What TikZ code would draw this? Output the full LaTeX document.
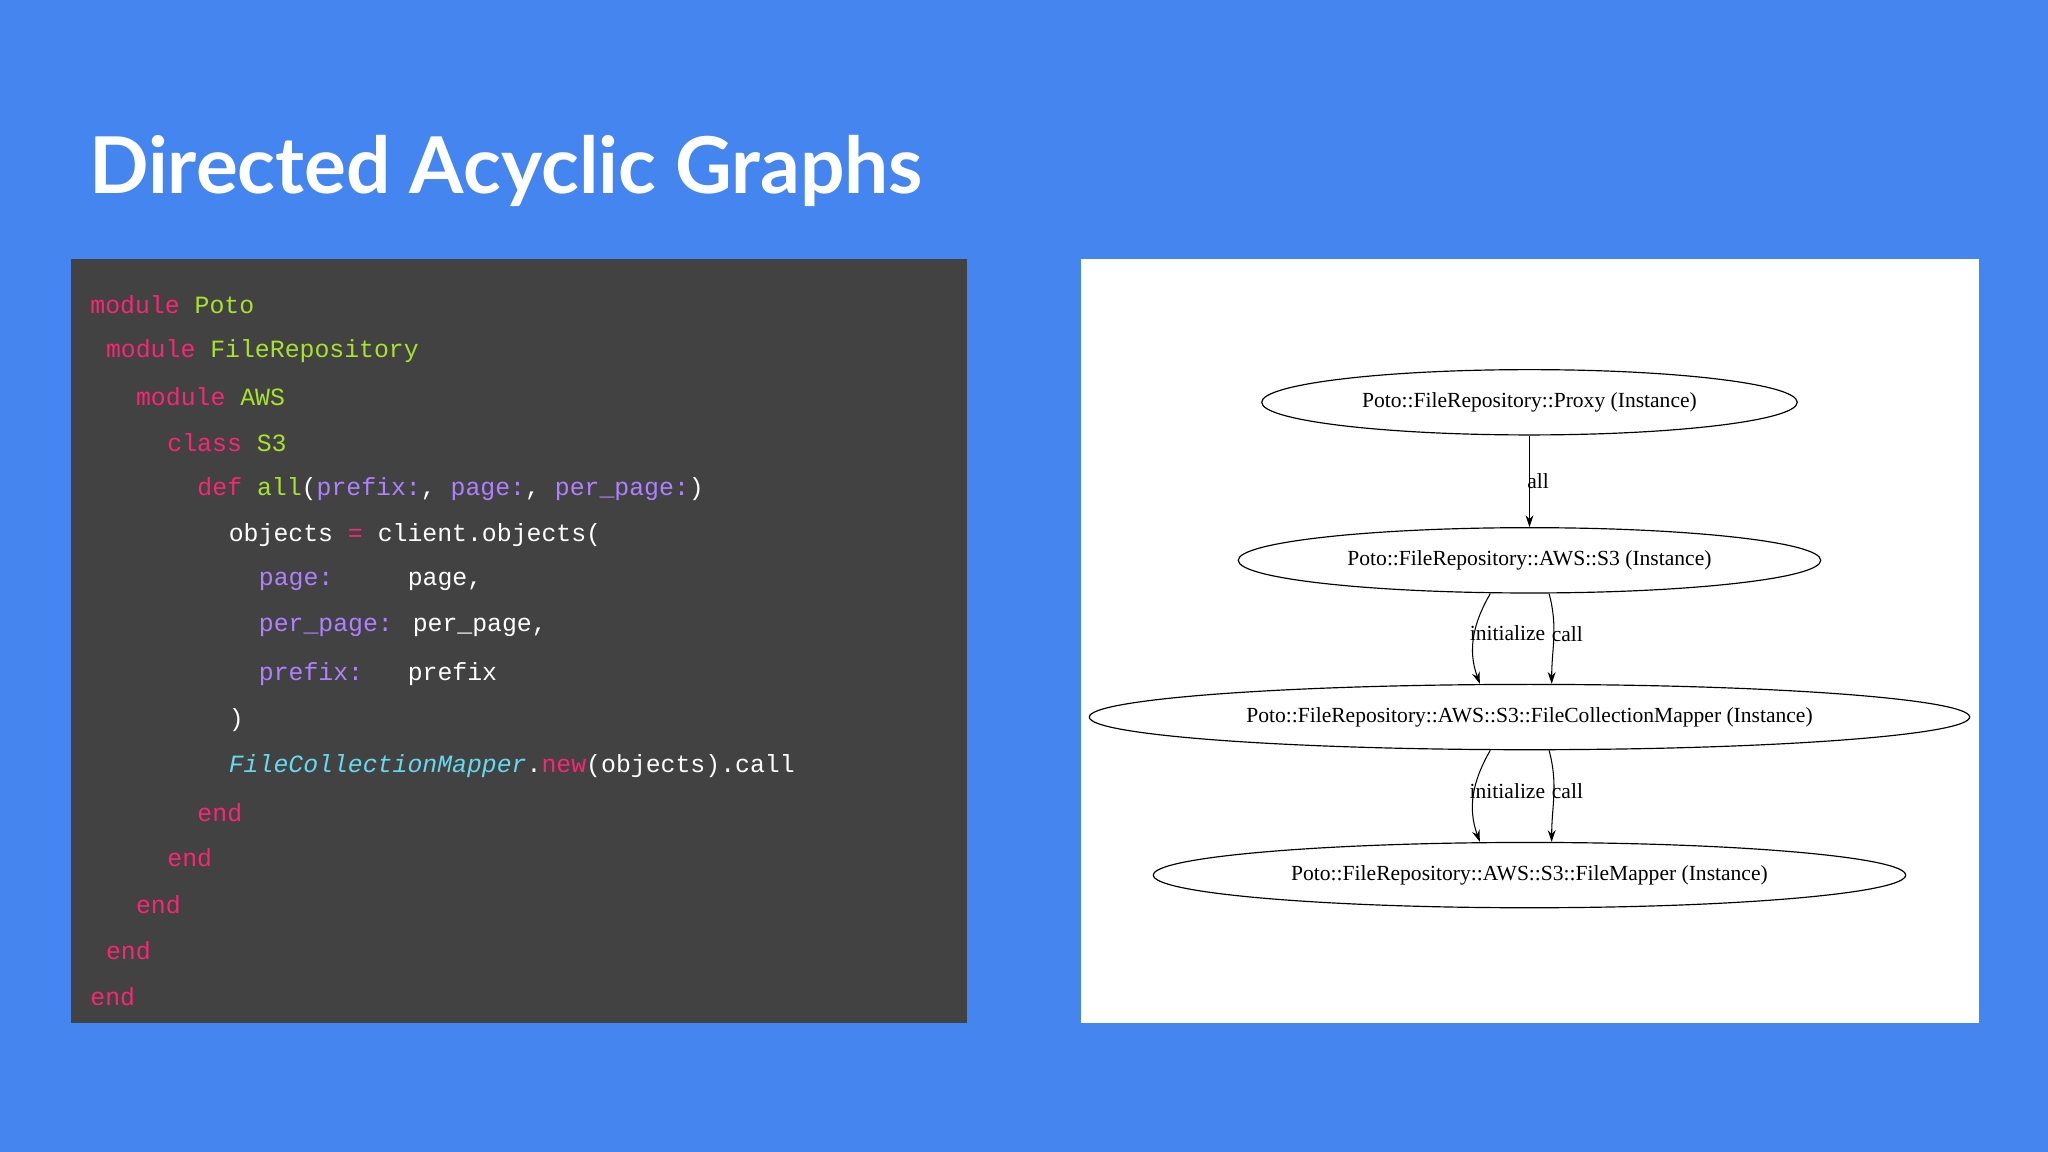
\documentclass[tikz,border=0pt]{standalone}
\usepackage{fontspec}
\setmainfont{Liberation Serif}
\newfontfamily\titlefont{Lato}
\newfontfamily\codefont{Liberation Mono}
\usetikzlibrary{arrows.meta,shapes.geometric}
\definecolor{bg}{HTML}{4485F0}
\definecolor{panel}{HTML}{424242}
\definecolor{kw}{HTML}{F92672}
\definecolor{cn}{HTML}{A6E22E}
\definecolor{pu}{HTML}{AE81FF}
\definecolor{cy}{HTML}{66D9EF}
\tikzset{
 code/.style={anchor=west,inner sep=0pt,text=white,font=\codefont\fontsize{19}{19}\selectfont},
 ell/.style={draw,ellipse,inner sep=0pt,line width=0.9pt,font=\fontsize{16.5}{16.5}\selectfont},
 edge/.style={-{Stealth[length=9pt,width=6pt]},line width=0.8pt},
 elab/.style={font=\fontsize{16.5}{16.5}\selectfont,inner sep=1pt}
}
\begin{document}
\begin{tikzpicture}[x=1pt,y=-1pt]
\fill[bg] (0,0) rectangle (1568,882);
\useasboundingbox (0,0) rectangle (1568,882);
\node[anchor=west,inner sep=0pt,text=white,font=\titlefont\bfseries\fontsize{60}{60}\selectfont] (title) at (68,131) {Directed Acyclic Graphs};
\fill[panel] (54,198) rectangle (740,783);
\node[code] (l1) at (69,233) {\textcolor{kw}{module} \textcolor{cn}{Poto}};
\node[code] (l2) at (81,268.5) {\textcolor{kw}{module} \textcolor{cn}{FileRepository}};
\node[code] (l3) at (104,304) {\textcolor{kw}{module} \textcolor{cn}{AWS}};
\node[code] (l4) at (128,339) {\textcolor{kw}{class} \textcolor{cn}{S3}};
\node[code] (l5) at (151,374.5) {\textcolor{kw}{def} \textcolor{cn}{all}(\textcolor{pu}{prefix:}, \textcolor{pu}{page:}, \textcolor{pu}{per\_page:})};
\node[code] (l6) at (175,410) {objects \textcolor{kw}{=} client.objects(};
\node[code] (l7) at (198,445) {\textcolor{pu}{page:}\ \ \ \ \ page,};
\node[code] (l8) at (198,480.5) {\textcolor{pu}{per\_page:} per\_page,};
\node[code] (l9) at (198,516) {\textcolor{pu}{prefix:}\ \ \ prefix};
\node[code] (l10) at (175,551) {)};
\node[code] (l11) at (175,586.5) {\textcolor{cy}{\itshape FileCollectionMapper}.\textcolor{kw}{new}(objects).call};
\node[code] (l12) at (151,622) {\textcolor{kw}{end}};
\node[code] (l13) at (128,657) {\textcolor{kw}{end}};
\node[code] (l14) at (104,692.5) {\textcolor{kw}{end}};
\node[code] (l15) at (81,728) {\textcolor{kw}{end}};
\node[code] (l16) at (69,763) {\textcolor{kw}{end}};
\fill[white] (828,198) rectangle (1515,783);
\node[ell,minimum width=410,minimum height=50] (n1) at (1171,308) {Poto::FileRepository::Proxy (Instance)};
\node[ell,minimum width=446,minimum height=50] (n2) at (1171,429) {Poto::FileRepository::AWS::S3 (Instance)};
\node[ell,minimum width=674,minimum height=50] (n3) at (1171,549) {Poto::FileRepository::AWS::S3::FileCollectionMapper (Instance)};
\node[ell,minimum width=576,minimum height=50] (n4) at (1171,670) {Poto::FileRepository::AWS::S3::FileMapper (Instance)};
\draw[edge] (n1) -- node[elab,right,pos=0.5,xshift=-3pt]{all} (n2);
\draw[edge] ([xshift=-30pt]n2.south) to[out=-120,in=110] node[elab,pos=0.45,right,xshift=-5pt]{initialize} ([xshift=-38pt]n3.north);
\draw[edge] ([xshift=15pt]n2.south) to[out=-75,in=90] node[elab,pos=0.45,right,xshift=-3pt]{call} ([xshift=17pt]n3.north);
\draw[edge] ([xshift=-30pt]n3.south) to[out=-120,in=110] node[elab,pos=0.45,right,xshift=-5pt]{initialize} ([xshift=-38pt]n4.north);
\draw[edge] ([xshift=15pt]n3.south) to[out=-75,in=90] node[elab,pos=0.45,right,xshift=-3pt]{call} ([xshift=17pt]n4.north);
\end{tikzpicture}
\end{document}
